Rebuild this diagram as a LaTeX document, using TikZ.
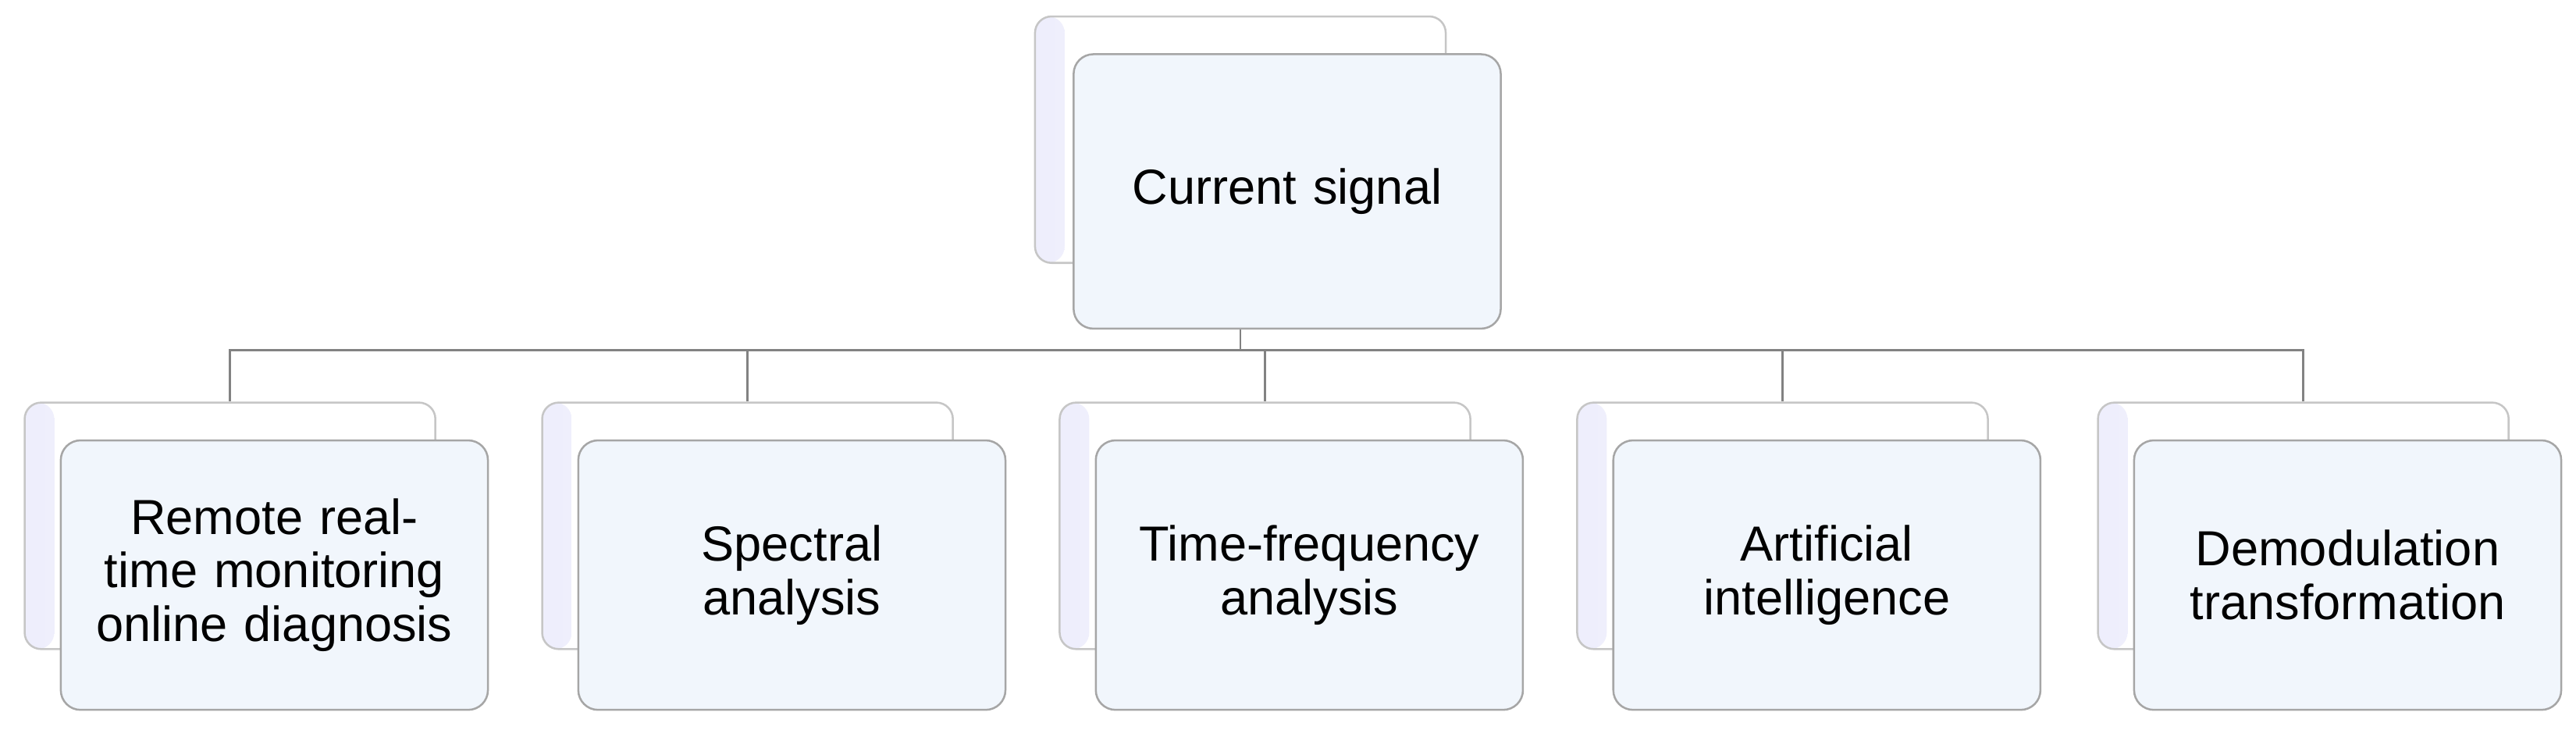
\documentclass[tikz,border=0pt]{standalone}
\usepackage{fontspec}
\setmainfont{Liberation Sans}
\begin{document}
\begin{tikzpicture}[x=1pt,y=-1pt,
  conn/.style={draw=gray!60!black!70, line width=1.3pt},
  backbox/.style={draw=gray!45, line width=1.2pt, rounded corners=10pt, fill=white,
    minimum width=250pt, minimum height=150pt, inner sep=0pt,
    path picture={\fill[left color=gray!30!blue!8, right color=white]
      (path picture bounding box.south west) rectangle ([xshift=18pt]path picture bounding box.north west);}},
  frontbox/.style={draw=gray!70, line width=1.2pt, rounded corners=12pt, fill={rgb,255:red,241;green,246;blue,252},
    minimum width=260pt, minimum height=164pt, inner sep=2pt, align=center,
    font=\fontsize{30}{32.5}\selectfont, text width=256pt}]
\useasboundingbox (0,0) rectangle (1568,444);
\node[backbox] (tb) at (755,85) {};
\coordinate (bus) at (755,213);
\foreach \i/\x in {1/140,2/455,3/770,4/1085,5/1402}{
  \node[backbox] (b\i) at (\x,320) {};
}
\draw[conn] (tb.south) -- (bus);
\foreach \i in {1,...,5}{ \draw[conn] (bus) -| (b\i.north); }
\node[frontbox, minimum width=257pt, minimum height=167pt] (top) at (783.5,116.5) {Current signal};
\node[frontbox] (f1) at (167,350) {Remote real-\\time monitoring\\online diagnosis};
\node[frontbox] (f2) at (482,350) {Spectral\\analysis};
\node[frontbox] (f3) at (797,350) {Time-frequency\\analysis};
\node[frontbox] (f4) at (1112,350) {Artificial\\intelligence};
\node[frontbox] (f5) at (1429,350) {Demodulation\\transformation};
\end{tikzpicture}
\end{document}
